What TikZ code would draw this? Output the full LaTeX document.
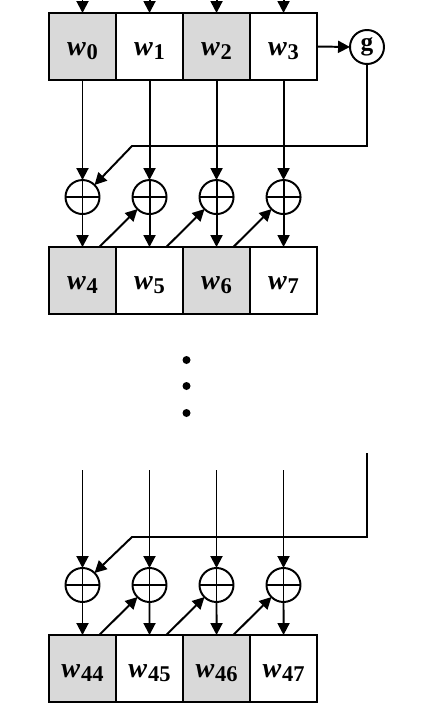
\documentclass[tikz,border=0pt]{standalone}
\usepackage{fontspec}
\setmainfont{Liberation Serif}
\usetikzlibrary{arrows.meta,positioning,calc}
\newcommand{\wname}[1]{\textbf{\textit{w}}\kern0.5pt\raisebox{-0.3ex}{\fontsize{16}{16}\selectfont\bfseries #1}}

\begin{document}
\begin{tikzpicture}[
    x=0.025cm, y=-0.025cm,
    reg/.style={rectangle, draw, line width=1.8pt, minimum width=1.675cm, minimum height=1.675cm, inner sep=0pt, outer sep=0pt,
        text height=13pt, text depth=0pt, font=\fontsize{20}{20}\selectfont, fill=#1},
    reg/.default=white,
    xor/.style={circle, draw, line width=1.4pt, minimum size=0.85cm, inner sep=0pt, outer sep=0pt,
        path picture={\draw[line width=1.4pt] (path picture bounding box.north) -- (path picture bounding box.south)
            (path picture bounding box.west) -- (path picture bounding box.east);}},
    gfun/.style={circle, draw, line width=1.4pt, minimum size=0.85cm, inner sep=0pt, outer sep=0pt, font=\fontsize{18}{18}\selectfont\bfseries},
    arrow/.style={-{Triangle[length=8.5pt,width=8.5pt]}, line width=1.4pt},
    dot/.style={circle, fill, minimum size=0.2cm, inner sep=0pt},
]
    \useasboundingbox (0,0) rectangle (430,724);

    % First key block
    \node[reg=gray!30] (w0) at (82.5,46.5) {\wname{0}};
    \node[reg, right=0pt of w0] (w1) {\wname{1}};
    \node[reg=gray!30, right=0pt of w1] (w2) {\wname{2}};
    \node[reg, right=0pt of w2] (w3) {\wname{3}};
    \node[gfun] (g) at (367,47) {g};
    \draw[arrow] (w3.east) -- (g.west);
    \foreach \i in {0,...,3} {
        \coordinate (in\i) at (w\i.north |- 0,-2);
        \draw[arrow] (in\i) -- (w\i.north);
    }

    % First round of XORs
    \foreach \i in {0,...,3}
        \node[xor, below=2.5cm of w\i] (a\i) {};
    \node[reg=gray!30, below=0.825cm of a0] (w4) {\wname{4}};
    \node[reg, right=0pt of w4] (w5) {\wname{5}};
    \node[reg=gray!30, right=0pt of w5] (w6) {\wname{6}};
    \node[reg, right=0pt of w6] (w7) {\wname{7}};

    \foreach \i [evaluate=\i as \j using int(\i+4)] in {0,...,3} {
        \draw[arrow] (w\i.south) -- (a\i.north);
        \draw[arrow] (a\i.south) -- (w\j.north);
    }
    \foreach \i/\k in {4/1,5/2,6/3}
        \draw[arrow] ($(w\i.north)!0.5!(w\i.north east)$) -- (a\k.south west);

    % Feedback through g
    \coordinate (fa1) at (g.south |- 0,146);
    \coordinate (fa2) at (132,146);
    \draw[arrow] (g.south) -- (fa1) -- (fa2) -- (a0.north east);

    % Dots
    \foreach \n/\y in {1/360,2/386,3/413}
        \node[dot] (d\n) at (186.5,\y) {};

    % Last round of XORs
    \foreach \i/\x in {0/82.5,1/149.5,2/216.5,3/283.5} {
        \node[xor] (b\i) at (\x,585) {};
        \coordinate (top\i) at (\x,470);
        \draw[arrow] (top\i) -- (b\i.north);
    }
    \node[reg=gray!30, below=0.825cm of b0] (w44) {\wname{44}};
    \node[reg, right=0pt of w44] (w45) {\wname{45}};
    \node[reg=gray!30, right=0pt of w45] (w46) {\wname{46}};
    \node[reg, right=0pt of w46] (w47) {\wname{47}};

    \foreach \i/\j in {0/44,1/45,2/46,3/47}
        \draw[arrow] (b\i.south) -- (w\j.north);
    \foreach \i/\k in {44/1,45/2,46/3}
        \draw[arrow] ($(w\i.north)!0.5!(w\i.north east)$) -- (b\k.south west);

    \coordinate (fc0) at (367,453);
    \coordinate (fc1) at (367,537);
    \coordinate (fc2) at (132,537);
    \draw[arrow] (fc0) -- (fc1) -- (fc2) -- (b0.north east);
\end{tikzpicture}
\end{document}
